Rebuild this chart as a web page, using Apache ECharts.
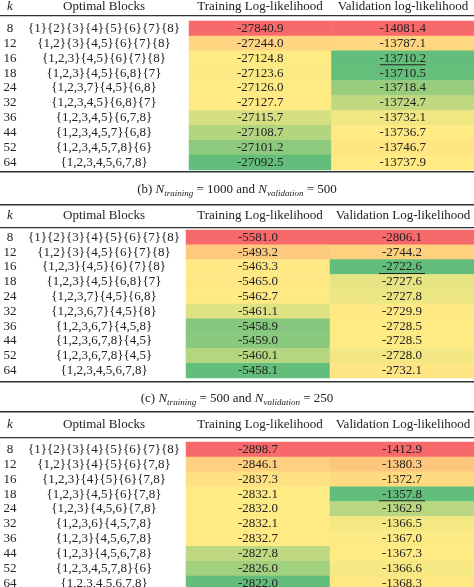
<!DOCTYPE html>
<html><head><meta charset="utf-8">
<script src="https://cdn.jsdelivr.net/npm/echarts@6/dist/echarts.min.js"></script>
<style>html,body{margin:0;padding:0;background:#fff}#c{width:474px;height:587px}</style>
</head><body><div id="c"></div>
<script>
const kValues = ['8','12','16','18','24','32','36','44','52','64'];
const blocksA = ['{1}{2}{3}{4}{5}{6}{7}{8}','{1,2}{3}{4,5}{6}{7}{8}','{1,2,3}{4,5}{6}{7}{8}','{1,2,3}{4,5}{6,8}{7}','{1,2,3,7}{4,5}{6,8}','{1,2,3,4,5}{6,8}{7}','{1,2,3,4,5}{6,7,8}','{1,2,3,4,5,7}{6,8}','{1,2,3,4,5,7,8}{6}','{1,2,3,4,5,6,7,8}'];
const trainA = [-27840.9,-27244.0,-27124.8,-27123.6,-27126.0,-27127.7,-27115.7,-27108.7,-27101.2,-27092.5];
const validA = [-14081.4,-13787.1,-13710.2,-13710.5,-13718.4,-13724.7,-13732.1,-13736.7,-13746.7,-13737.9];
const blocksB = ['{1}{2}{3}{4}{5}{6}{7}{8}','{1,2}{3}{4,5}{6}{7}{8}','{1,2,3}{4,5}{6}{7}{8}','{1,2,3}{4,5}{6,8}{7}','{1,2,3,7}{4,5}{6,8}','{1,2,3,6,7}{4,5}{8}','{1,2,3,6,7}{4,5,8}','{1,2,3,6,7,8}{4,5}','{1,2,3,6,7,8}{4,5}','{1,2,3,4,5,6,7,8}'];
const trainB = [-5581.0,-5493.2,-5463.3,-5465.0,-5462.7,-5461.1,-5458.9,-5459.0,-5460.1,-5458.1];
const validB = [-2806.1,-2744.2,-2722.6,-2727.6,-2727.8,-2729.9,-2728.5,-2728.5,-2728.0,-2732.1];
const blocksC = ['{1}{2}{3}{4}{5}{6}{7}{8}','{1,2}{3}{4}{5}{6}{7,8}','{1,2,3}{4}{5}{6}{7,8}','{1,2,3}{4,5}{6}{7,8}','{1,2,3}{4,5,6}{7,8}','{1,2,3,6}{4,5,7,8}','{1,2,3}{4,5,6,7,8}','{1,2,3}{4,5,6,7,8}','{1,2,3,4,5,7,8}{6}','{1,2,3,4,5,6,7,8}'];
const trainC = [-2898.7,-2846.1,-2837.3,-2832.1,-2832.0,-2832.1,-2832.7,-2827.8,-2826.0,-2822.0];
const validC = [-1412.9,-1380.3,-1372.7,-1357.8,-1362.9,-1366.5,-1367.0,-1367.3,-1366.6,-1368.3];
const headersA = ['Training Log-likelihood','Validation log-likelihood'];
const headersBC = ['Training Log-likelihood','Validation Log-likelihood'];

const FONT = 'Liberation Serif';
const RED=[248,105,107], YEL=[255,235,132], GRN=[99,190,123];
function mix(a,b,t){return 'rgb('+a.map((v,i)=>Math.round(v+(b[i]-v)*t)).join(',')+')';}
function colorFor(arr,v){
  const s=[...arr].sort((a,b)=>a-b), mn=s[0], mx=s[s.length-1];
  const n=s.length, med=n%2?s[(n-1)/2]:(s[n/2-1]+s[n/2])/2;
  if(v<=med) return mix(RED,YEL,(v-mn)/(med-mn||1));
  return mix(YEL,GRN,(v-med)/(mx-med||1));
}
const tables=[
  {blocks:blocksA,train:trainA,valid:validA,left:189,top:21,h:149},
  {blocks:blocksB,train:trainB,valid:validB,left:186,top:230,h:148},
  {blocks:blocksC,train:trainC,valid:validC,left:186,top:442,h:149}
];
const grid=[],xAxis=[],yAxis=[],series=[];
tables.forEach((t,i)=>{
  grid.push({left:t.left,right:0,top:t.top,height:t.h,outerBoundsMode:'none',containLabel:false});
  xAxis.push({type:'category',gridIndex:i,data:['T','V'],show:false});
  yAxis.push({type:'category',gridIndex:i,data:kValues,inverse:true,show:false});
  const data=[];
  t.train.forEach((v,r)=>data.push({value:[0,r,v],itemStyle:{color:colorFor(t.train,v)}}));
  t.valid.forEach((v,r)=>data.push({value:[1,r,v],itemStyle:{color:colorFor(t.valid,v)}}));
  series.push({type:'heatmap',xAxisIndex:i,yAxisIndex:i,data,
    label:{show:true,fontFamily:FONT,fontSize:13,color:'#222',
      formatter:p=>p.value[2].toFixed(1)},emphasis:{disabled:true}});
});
function line(y,w){return {type:'rect',shape:{x:0,y:y,width:474,height:w},style:{fill:'#333'},z:100};}
function txt(x,y,s,align,italic){return {type:'text',x,y,style:{text:s,fontFamily:FONT,fontSize:13,fill:'#222',align:align||'center',verticalAlign:'middle',fontStyle:italic?'italic':'normal'},z:100};}
function caption(y,lab,a,b){return {type:'text',x:237,y,style:{
  text:'{t|'+lab+' }{i|N}{s|training}{t| = '+a+' and }{i|N}{s|validation}{t| = '+b+'}',
  align:'center',verticalAlign:'middle',
  rich:{t:{fontFamily:FONT,fontSize:13,fill:'#222'},i:{fontFamily:FONT,fontSize:13,fontStyle:'italic',fill:'#222'},
        s:{fontFamily:FONT,fontSize:9,fontStyle:'italic',fill:'#222',padding:[8,0,0,0]}}},z:100};}
function header(y,h){return [txt(10,y,'k','center',true),txt(104,y,'Optimal Blocks'),txt(260,y,h[0]),txt(403,y,h[1])];}
const graphic=[
  ...header(7,headersA), line(15,1.2), line(171,1.6),
  caption(190,'(b)',1000,500),
  line(204,1.6), ...header(216,headersBC), line(227,1.2), line(381,1.6),
  caption(399,'(c)',500,250),
  line(411,1.6), ...header(425,headersBC), line(437,1.2)
];
const chart=echarts.init(document.getElementById('c'));
chart.setOption({animation:false,grid,xAxis,yAxis,series});
tables.forEach((t,i)=>{
  kValues.forEach((k,r)=>{
    const y=chart.convertToPixel({yAxisIndex:i},k);
    graphic.push(txt(10,y,k));
    graphic.push(txt(104,y,t.blocks[r]));
  });
  const best=Math.max(...t.valid), r=t.valid.indexOf(best);
  const y=chart.convertToPixel({yAxisIndex:i},kValues[r])+6;
  const cx=chart.convertToPixel({xAxisIndex:i},'V');
  graphic.push({type:'rect',shape:{x:cx-23,y:y,width:46,height:1},style:{fill:'#222'},z:100});
});
chart.setOption({graphic});
</script></body></html>
